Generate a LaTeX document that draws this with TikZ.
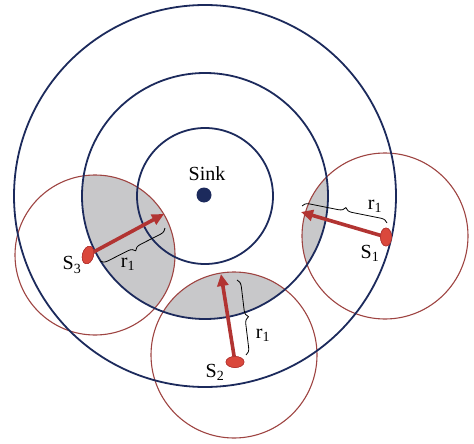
\documentclass[tikz,border=0pt]{standalone}
\usepackage{fontspec}
\setmainfont{Liberation Serif}
\usetikzlibrary{arrows.meta,decorations.pathreplacing,shapes.geometric}
\definecolor{navy}{RGB}{28,42,92}
\definecolor{ringred}{RGB}{158,68,66}
\definecolor{arrowred}{RGB}{178,52,50}
\definecolor{dotred}{RGB}{218,72,60}
\definecolor{overlapgray}{RGB}{200,200,202}
\begin{document}
\begin{tikzpicture}[x=1pt,y=-1pt,
  sinkring/.style={draw=navy,line width=1.8pt},
  sensrange/.style={draw=ringred,line width=1.1pt},
  ray/.style={draw=arrowred,line width=3.6pt,-{Triangle[length=12pt,width=11pt]}},
  sensor/.style={ellipse,draw=arrowred,fill=dotred,line width=0.6pt,inner sep=0pt,minimum width=11pt,minimum height=18pt},
  lbl/.style={font=\fontsize{20}{20}\selectfont,inner sep=0pt},
  rbrace/.style={decorate,decoration={brace,amplitude=7pt},draw=black,line width=0.8pt}]
\useasboundingbox (0,0) rectangle (474,444);
% centres
\coordinate (C) at (205,196);
\coordinate (c1) at (385,236);
\coordinate (c2) at (234,355);
\coordinate (c3) at (95,255);
% shaded overlap with the middle ring
\begin{scope}
  \clip (C) circle (123);
  \fill[overlapgray] (c1) circle (83);
  \fill[overlapgray] (c2) circle (83);
  \fill[overlapgray] (c3) circle (80);
\end{scope}
% sensing ranges
\draw[sensrange] (c1) circle (83);
\draw[sensrange] (c2) circle (83);
\draw[sensrange] (c3) circle (80);
% rings around the sink
\draw[sinkring] (C) circle (68);
\draw[sinkring] (C) circle (123);
\draw[sinkring] (C) circle (191);
% sink
\node[circle,fill=navy,minimum size=15pt,inner sep=0pt] (sink) at (204,195) {};
\node[lbl] (sinklbl) at (207,174) {Sink};
% sensors
\node[sensor] (s1) at (386,237) {};
\node[sensor,rotate=90] (s2) at (235,362) {};
\node[sensor,rotate=-15] (s3) at (88,255) {};
% arrow tips
\coordinate (t1) at (301,212);
\coordinate (t2) at (221,274);
\coordinate (t3) at (164,214);
\draw[ray] (s1.center) -- (t1);
\draw[ray] (s2.center) -- (t2);
\draw[ray] (s3.center) -- (t3);
\node[sensor] at (s1) {};
\node[sensor,rotate=90] at (s2) {};
\node[sensor,rotate=-15] at (s3) {};
% braces
\coordinate (b1a) at (302,206); \coordinate (b1b) at (387,223);
\coordinate (b2a) at (237,280); \coordinate (b2b) at (246,355);
\coordinate (b3a) at (165,228); \coordinate (b3b) at (100,261);
\draw[rbrace] (b1a) -- (b1b);
\draw[rbrace] (b2a) -- (b2b);
\draw[rbrace] (b3a) -- (b3b);
% labels
\node[lbl] (l1) at (370,253) {S\textsubscript{1}};
\node[lbl] (l2) at (215,372) {S\textsubscript{2}};
\node[lbl] (l3) at (72,265) {S\textsubscript{3}};
\node[lbl] (r1a) at (375,206) {r\textsubscript{1}};
\node[lbl] (r1b) at (263,335) {r\textsubscript{1}};
\node[lbl] (r1c) at (128,264) {r\textsubscript{1}};
\end{tikzpicture}
\end{document}
